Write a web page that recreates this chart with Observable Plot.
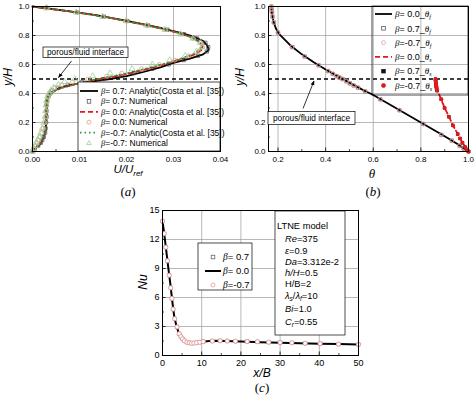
<!DOCTYPE html>
<html><head><meta charset="utf-8">
<script src="https://cdn.jsdelivr.net/npm/d3@7"></script>
<script src="https://cdn.jsdelivr.net/npm/@observablehq/plot@0.6"></script>
<style>
body{margin:0;background:#fff;}
#wrap{position:relative;width:474px;height:395px;overflow:hidden;font-family:'Liberation Sans',Arial,sans-serif;background:#fff;}
</style></head>
<body><div id="wrap"></div>
<script>
// ---------- Panel (a): velocity profiles ----------
const aXTicks = [0, 0.01, 0.02, 0.03, 0.04];
const aXMinor = [0.005, 0.015, 0.025, 0.035];
const yTicks = [0, 0.2, 0.4, 0.6, 0.8, 1.0];
const yMinor = [0.1, 0.3, 0.5, 0.7, 0.9];
const interfaceY = [0.5];
const aY   = [0, 0.02, 0.05, 0.1, 0.15, 0.2, 0.25, 0.3, 0.35, 0.38, 0.4, 0.42, 0.44, 0.46, 0.48, 0.5, 0.52, 0.55, 0.58, 0.61, 0.64, 0.67, 0.7, 0.73, 0.76, 0.79, 0.82, 0.85, 0.88, 0.91, 0.94, 0.97, 1];
const aU07 = [0, 0.0006, 0.0016, 0.0024, 0.0028, 0.0029, 0.003, 0.003, 0.0031, 0.0034, 0.0038, 0.0046, 0.0058, 0.0082, 0.0118, 0.0165, 0.02, 0.0238, 0.0272, 0.0298, 0.0335, 0.0363, 0.0375, 0.0372, 0.0364, 0.0345, 0.0313, 0.0275, 0.0232, 0.0187, 0.0135, 0.0072, 0];
const aU00 = [0, 0.0006, 0.0016, 0.0024, 0.0028, 0.0029, 0.003, 0.003, 0.0031, 0.0034, 0.0039, 0.0048, 0.0062, 0.0085, 0.0112, 0.0145, 0.018, 0.0222, 0.0258, 0.029, 0.032, 0.0345, 0.036, 0.0362, 0.0354, 0.0337, 0.0308, 0.0272, 0.0229, 0.0184, 0.0133, 0.0071, 0];
const aUm07 = [0, 0.0006, 0.0016, 0.0024, 0.0028, 0.0029, 0.003, 0.003, 0.0031, 0.0034, 0.0039, 0.0049, 0.0064, 0.0088, 0.011, 0.0138, 0.0172, 0.0214, 0.0251, 0.0285, 0.0315, 0.0341, 0.0356, 0.036, 0.0352, 0.0336, 0.0307, 0.0271, 0.0228, 0.0183, 0.0132, 0.007, 0];
const nY    = [0, 0.02, 0.04, 0.06, 0.08, 0.1, 0.13, 0.16, 0.2, 0.24, 0.28, 0.32, 0.35, 0.38, 0.4, 0.42, 0.44, 0.46, 0.48, 0.5, 0.52, 0.54, 0.57, 0.6, 0.63, 0.66, 0.69, 0.72, 0.75, 0.78, 0.81, 0.84, 0.87, 0.9, 0.93, 0.96, 0.99];
const nU07  = [0, 0.0005, 0.0012, 0.0018, 0.0021, 0.0024, 0.0027, 0.0028, 0.0029, 0.003, 0.003, 0.003, 0.0031, 0.0034, 0.0038, 0.0042, 0.0054, 0.0075, 0.0106, 0.015, 0.0188, 0.0215, 0.0255, 0.029, 0.0322, 0.0352, 0.0371, 0.0374, 0.0368, 0.035, 0.0322, 0.0287, 0.0246, 0.0202, 0.0152, 0.0095, 0.003];
const nU00  = [0, 0.0003, 0.0007, 0.001, 0.0013, 0.0016, 0.002, 0.0023, 0.0026, 0.0028, 0.0029, 0.003, 0.0031, 0.0033, 0.0036, 0.0041, 0.0048, 0.0062, 0.0085, 0.0118, 0.0158, 0.019, 0.0232, 0.027, 0.0303, 0.0332, 0.0353, 0.0362, 0.0358, 0.0342, 0.0316, 0.0283, 0.0244, 0.02, 0.015, 0.0094, 0.003];
const nUm07 = [0, 0.0002, 0.0005, 0.0008, 0.0011, 0.0014, 0.0018, 0.0021, 0.0024, 0.0027, 0.0028, 0.0029, 0.003, 0.0032, 0.0035, 0.0039, 0.0045, 0.0055, 0.0068, 0.009, 0.0128, 0.0165, 0.0212, 0.0255, 0.0292, 0.0325, 0.0349, 0.036, 0.0357, 0.0341, 0.0315, 0.0282, 0.0243, 0.0199, 0.0149, 0.0093, 0.003];

// ---------- Panel (b): temperature profiles ----------
const bXTicks = [0.2, 0.4, 0.6, 0.8, 1.0];
const bXMinor = [0.3, 0.5, 0.7, 0.9];
const fLineTheta = [0.172, 0.174, 0.178, 0.184, 0.192, 0.205, 0.25, 0.3, 0.35, 0.4, 0.45, 0.5, 0.55, 0.6, 0.7, 0.8, 0.9, 0.95, 1.0];
const fLineY     = [1.0, 0.96, 0.92, 0.88, 0.845, 0.81, 0.735, 0.67, 0.615, 0.565, 0.52, 0.475, 0.43, 0.39, 0.295, 0.2, 0.105, 0.055, 0];
const nfY    = [1.0, 0.98, 0.96, 0.93, 0.89, 0.82, 0.72, 0.655, 0.595, 0.555, 0.535, 0.52, 0.51, 0.5, 0.485, 0.47, 0.455, 0.44, 0.415, 0.36, 0.285, 0.19, 0.115, 0.075, 0.04, 0.02, 0];
const nfT07  = [0.172, 0.173, 0.175, 0.177, 0.183, 0.2, 0.26, 0.312, 0.37, 0.41, 0.43, 0.446, 0.458, 0.471, 0.487, 0.502, 0.518, 0.536, 0.566, 0.63, 0.71, 0.81, 0.886, 0.93, 0.963, 0.98, 1.0];
const nfTm07 = [0.172, 0.173, 0.174, 0.177, 0.182, 0.2, 0.258, 0.31, 0.37, 0.41, 0.43, 0.445, 0.457, 0.47, 0.487, 0.5, 0.517, 0.535, 0.565, 0.63, 0.71, 0.81, 0.885, 0.93, 0.962, 0.98, 1.0];
const sLineTheta = [0.862, 0.865, 0.868, 0.875, 0.885, 0.9, 0.918, 0.935, 0.955, 0.965, 0.975, 0.987, 1.0];
const sLineY     = [0.5, 0.45, 0.42, 0.4, 0.36, 0.3, 0.24, 0.18, 0.12, 0.09, 0.06, 0.03, 0];
const nsY    = [0.5, 0.49, 0.48, 0.47, 0.46, 0.45, 0.44, 0.43, 0.42, 0.36, 0.3, 0.24, 0.18, 0.12, 0.09, 0.06, 0.03, 0.01, 0];
const nsT07  = [0.861, 0.861, 0.862, 0.862, 0.863, 0.864, 0.865, 0.866, 0.867, 0.885, 0.899, 0.917, 0.934, 0.954, 0.964, 0.974, 0.986, 0.995, 1.0];
const nsTm07 = [0.862, 0.862, 0.863, 0.863, 0.864, 0.865, 0.866, 0.867, 0.868, 0.886, 0.9, 0.918, 0.935, 0.955, 0.965, 0.975, 0.987, 0.995, 1.0];

// ---------- Panel (c): Nusselt number ----------
const cXTicks = [0, 10, 20, 30, 40, 50];
const cXMinor = [5, 15, 25, 35, 45];
const cYTicks = [0, 3, 6, 9, 12, 15];
const cYMinor = [1.5, 4.5, 7.5, 10.5, 13.5];
const cLineX  = [0, 0.5, 1, 1.5, 2, 2.5, 3, 3.5, 4, 4.5, 5, 6, 7, 8, 9, 10, 12, 14, 16, 20, 25, 30, 35, 40, 45, 50];
const cLineNu = [13.9, 12.4, 10.7, 9.0, 7.4, 5.6, 4.0, 3.15, 2.5, 2.05, 1.75, 1.42, 1.3, 1.3, 1.35, 1.42, 1.5, 1.52, 1.5, 1.45, 1.38, 1.32, 1.27, 1.22, 1.18, 1.14];
const cMarkX  = [0, 0.43, 0.85, 1.28, 1.7, 2.1, 2.4, 2.7, 3.1, 3.7, 4.25, 4.7, 5.1, 5.6, 6.2, 6.8, 7.4, 8.0, 8.7, 9.5, 10.4, 12.7, 14.7, 16.5, 18.6, 21.6, 24.2, 27.1, 30, 33, 36.4, 40.2, 44.9, 50];
const cMarkNu = [13.9, 12.6, 11.2, 9.8, 8.3, 7.0, 5.9, 4.8, 3.8, 2.95, 2.25, 1.95, 1.72, 1.52, 1.38, 1.31, 1.28, 1.29, 1.33, 1.38, 1.44, 1.5, 1.52, 1.5, 1.48, 1.45, 1.42, 1.38, 1.34, 1.31, 1.27, 1.23, 1.18, 1.14];

// ---------- drawing ----------
const wrap = document.getElementById("wrap");
const W = 474, H = 395;
const FONT = "'Liberation Sans', Arial, sans-serif";
function mount(el){ el.style.position = "absolute"; el.style.left = "0px"; el.style.top = "0px"; wrap.appendChild(el); }
const style = (fs) => ({fontFamily: FONT, fontSize: fs, background: "transparent", overflow: "visible", color: "#000"});
const GRID = {stroke: "#9a9a9a", strokeOpacity: 1, strokeWidth: 0.7};
const f1 = d3.format(".1f"), f2 = d3.format(".2f");
// inward axis ticks (major and minor) at bottom and left of a frame of size fw x fh
function inTicks(xMaj, xMin, yMaj, yMin, fw, fh) {
  return [
    Plot.ruleX(xMaj, {insetTop: fh - 3.5, stroke: "#000", strokeWidth: 0.8}),
    Plot.ruleX(xMin, {insetTop: fh - 2, stroke: "#000", strokeWidth: 0.7}),
    Plot.ruleY(yMaj, {insetRight: fw - 3.5, stroke: "#000", strokeWidth: 0.8}),
    Plot.ruleY(yMin, {insetRight: fw - 2, stroke: "#000", strokeWidth: 0.7})
  ];
}

const tA = aY.map((y, i) => ({y, u07: aU07[i], u00: aU00[i], um07: aUm07[i]}));
const nA = nY.map((y, i) => ({y, u07: nU07[i], u00: nU00[i], um07: nUm07[i]}));

mount(Plot.plot({
  width: W, height: H, marginLeft: 32, marginRight: W - 220, marginTop: 6, marginBottom: H - 151,
  style: style("8px"),
  x: {domain: [0, 0.04]}, y: {domain: [0, 1]},
  marks: [
    Plot.gridX(aXTicks.slice(1, -1), GRID),
    Plot.gridY(yTicks.slice(1, -1), GRID),
    ...inTicks(aXTicks, aXMinor, yTicks, yMinor, 188, 145),
    Plot.ruleY(interfaceY, {stroke: "#000", strokeWidth: 1.3, strokeDasharray: "4,3"}),
    Plot.line(tA, {x: "u07", y: "y", stroke: "#000", strokeWidth: 1.8}),
    Plot.line(tA, {x: "u00", y: "y", stroke: "#e8141c", strokeWidth: 1.8, strokeDasharray: "5,3"}),
    Plot.line(tA, {x: "um07", y: "y", stroke: "#2a9a3a", strokeWidth: 1.6, strokeDasharray: "1.5,3"}),
    Plot.dot(nA, {x: "u07", y: "y", symbol: "square", r: 1.8, stroke: "#444", strokeWidth: 0.7, fill: "none"}),
    Plot.dot(nA, {x: "u00", y: "y", symbol: "circle", r: 2, stroke: "#e0a080", strokeWidth: 0.8, fill: "none"}),
    Plot.dot(nA, {x: "um07", y: "y", symbol: "triangle", r: 2.2, stroke: "#9ccf9c", strokeWidth: 0.8, fill: "none"}),
    Plot.axisX(aXTicks, {tickSize: 0, tickPadding: 4.5, tickFormat: f2, label: null}),
    Plot.axisY(yTicks, {tickSize: 0, tickPadding: 3, tickFormat: f1, label: null}),
    Plot.frame({stroke: "#000", strokeWidth: 1})
  ]
}));

const fLine = fLineTheta.map((t, i) => ({t, y: fLineY[i]}));
const nF = nfY.map((y, i) => ({y, t07: nfT07[i], tm07: nfTm07[i]}));
const sLine = sLineTheta.map((t, i) => ({t, y: sLineY[i]}));
const nS = nsY.map((y, i) => ({y, t07: nsT07[i], tm07: nsTm07[i]}));

mount(Plot.plot({
  width: W, height: H, marginLeft: 268, marginRight: W - 468, marginTop: 6, marginBottom: H - 151,
  style: style("8px"),
  x: {domain: [0.16, 1.0]}, y: {domain: [0, 1]},
  marks: [
    Plot.gridX(bXTicks.slice(0, -1), GRID),
    Plot.gridY(yTicks.slice(1, -1), GRID),
    ...inTicks(bXTicks, bXMinor, yTicks, yMinor, 200, 145),
    Plot.ruleY(interfaceY, {stroke: "#000", strokeWidth: 1.3, strokeDasharray: "4,3"}),
    Plot.line(fLine, {x: "t", y: "y", stroke: "#000", strokeWidth: 1.8}),
    Plot.line(sLine, {x: "t", y: "y", stroke: "#e8141c", strokeWidth: 1.8, strokeDasharray: "5,3"}),
    Plot.dot(nF, {x: "t07", y: "y", symbol: "square", r: 1.8, stroke: "#444", strokeWidth: 0.7, fill: "none"}),
    Plot.dot(nF, {x: "tm07", y: "y", symbol: "circle", r: 2, stroke: "#e8a0a0", strokeWidth: 0.8, fill: "none"}),
    Plot.dot(nS, {x: "t07", y: "y", symbol: "square", r: 1.8, fill: "#111", stroke: "none"}),
    Plot.dot(nS, {x: "tm07", y: "y", symbol: "circle", r: 2, fill: "#e31a1c", stroke: "none"}),
    Plot.axisX(bXTicks, {tickSize: 0, tickPadding: 4.5, tickFormat: f1, label: null}),
    Plot.axisY(yTicks, {tickSize: 0, tickPadding: 3, tickFormat: f1, label: null}),
    Plot.frame({stroke: "#000", strokeWidth: 1})
  ]
}));

const cLine = cLineX.map((x, i) => ({x, nu: cLineNu[i]}));
const cMark = cMarkX.map((x, i) => ({x, nu: cMarkNu[i]}));

mount(Plot.plot({
  width: W, height: H, marginLeft: 162, marginRight: W - 358, marginTop: 210, marginBottom: H - 355,
  style: style("9px"),
  x: {domain: [0, 50]}, y: {domain: [0, 15]},
  marks: [
    Plot.gridX(cXTicks.slice(1, -1), GRID),
    Plot.gridY(cYTicks.slice(1, -1), GRID),
    ...inTicks(cXTicks, cXMinor, cYTicks, cYMinor, 196, 145),
    Plot.line(cLine, {x: "x", y: "nu", stroke: "#000", strokeWidth: 2}),
    Plot.dot(cMark, {x: "x", y: "nu", symbol: "square", r: 1.8, stroke: "#555", strokeWidth: 0.7, fill: "none"}),
    Plot.dot(cMark, {x: "x", y: "nu", symbol: "circle", r: 2.1, stroke: "#e89a9a", strokeWidth: 0.9, fill: "#fff"}),
    Plot.axisX(cXTicks, {tickSize: 0, tickPadding: 4, label: null}),
    Plot.axisY(cYTicks, {tickSize: 0, tickPadding: 3, label: null}),
    Plot.frame({stroke: "#000", strokeWidth: 1})
  ]
}));

// ---------- overlay: legends, annotations, axis titles ----------
const SER = "font-family=\"'Liberation Serif','Times New Roman',serif\" font-style=\"italic\"";
const beta = `<tspan ${SER}>β</tspan>`;
function sample(s, x0, x1, y) {
  const cx = (x0 + x1) / 2;
  if (s.type === "line") return `<line x1="${x0}" x2="${x1}" y1="${y}" y2="${y}" stroke="${s.stroke}" stroke-width="${s.w}" ${s.dash ? `stroke-dasharray="${s.dash}"` : ""}/>`;
  if (s.type === "square") return `<rect x="${cx - 1.8}" y="${y - 1.8}" width="3.6" height="3.6" stroke="${s.stroke}" stroke-width="0.7" fill="${s.fill || "none"}"/>`;
  if (s.type === "circle") return `<circle cx="${cx}" cy="${y}" r="2" stroke="${s.stroke}" stroke-width="0.8" fill="${s.fill || "none"}"/>`;
  if (s.type === "triangle") return `<path d="M${cx},${y - 2.5}L${cx + 2.3},${y + 1.5}L${cx - 2.3},${y + 1.5}Z" stroke="${s.stroke}" stroke-width="0.8" fill="none"/>`;
  return "";
}
function legend(box, entries, opt) {
  let s = `<rect x="${box[0]}" y="${box[1]}" width="${box[2]}" height="${box[3]}" fill="${opt.fill}" stroke="#000" stroke-width="0.7"/>`;
  entries.forEach((e, i) => {
    const y = opt.y0 + i * opt.dy;
    s += sample(e.s, opt.sx0, opt.sx1, y);
    s += `<text x="${opt.tx}" y="${y + opt.fs * 0.36}" font-size="${opt.fs}">${e.t}</text>`;
  });
  return s;
}
const legA = [
  {s: {type: "line", stroke: "#000", w: 1.8}, t: `${beta}= 0.7: Analytic(Costa et al. [35])`},
  {s: {type: "square", stroke: "#444"}, t: `${beta}= 0.7: Numerical`},
  {s: {type: "line", stroke: "#e8141c", w: 1.8, dash: "5,3"}, t: `${beta}= 0.0: Analytic(Costa et al. [35])`},
  {s: {type: "circle", stroke: "#e0a080"}, t: `${beta}= 0.0: Numerical`},
  {s: {type: "line", stroke: "#2a9a3a", w: 1.6, dash: "1.5,3"}, t: `${beta}=-0.7: Analytic(Costa et al. [35])`},
  {s: {type: "triangle", stroke: "#9ccf9c"}, t: `${beta}=-0.7: Numerical`}
];
const th = (sub) => `_<tspan ${SER}>θ</tspan><tspan ${SER} font-size="6" dy="2">${sub}</tspan>`;
const legB = [
  {s: {type: "line", stroke: "#000", w: 1.8}, t: `${beta}= 0.0${th("f")}`},
  {s: {type: "square", stroke: "#444"}, t: `${beta}= 0.7${th("f")}`},
  {s: {type: "circle", stroke: "#e8a0a0"}, t: `${beta}=-0.7${th("f")}`},
  {s: {type: "line", stroke: "#e8141c", w: 1.8, dash: "5,3"}, t: `${beta}= 0.0${th("s")}`},
  {s: {type: "square", stroke: "#111", fill: "#111"}, t: `${beta}= 0.7${th("s")}`},
  {s: {type: "circle", stroke: "#e31a1c", fill: "#e31a1c"}, t: `${beta}=-0.7${th("s")}`}
];
const legC = [
  {s: {type: "square", stroke: "#555"}, t: `${beta}= 0.7`},
  {s: {type: "line", stroke: "#000", w: 2}, t: `${beta}= 0.0`},
  {s: {type: "circle", stroke: "#e89a9a"}, t: `${beta}=-0.7`}
];
const it = (t) => `<tspan font-style="italic">${t}</tspan>`;
const sb = (t) => `<tspan font-style="italic" font-size="6.5" dy="2">${t}</tspan><tspan dy="-2">`;
const info = [
  [277, 228.5, "LTNE model"],
  [285, 241.5, `${it("Re")}=375`],
  [285, 253.5, `${it("ε")}=0.9`],
  [285, 264.5, `${it("Da")}=3.312e-2`],
  [285, 275.5, `${it("h/H")}=0.5`],
  [285, 286.5, `H/B=2`],
  [285, 298.5, `${it("λ")}${sb("s")}/</tspan>${it("λ")}${sb("f")}=10</tspan>`],
  [285, 311.5, `${it("Bi")}=1.0`],
  [285, 324.5, `${it("C")}${sb("r")}=0.55</tspan>`]
];

const ov = document.createElementNS("http://www.w3.org/2000/svg", "svg");
ov.setAttribute("width", W); ov.setAttribute("height", H);
ov.setAttribute("font-family", FONT);
let html = `<defs><marker id="ah" viewBox="0 0 10 10" refX="9" refY="5" markerWidth="6" markerHeight="6" orient="auto-start-reverse"><path d="M0,1L10,5L0,9Z" fill="#000"/></marker></defs>`;
// panel (a)
html += `<rect x="43" y="47" width="85" height="10.5" fill="#fff" stroke="#000" stroke-width="0.7"/>`;
html += `<text x="85.5" y="55.2" font-size="8.3" text-anchor="middle">porous/fluid interface</text>`;
html += `<line x1="71.5" y1="61" x2="58.5" y2="77.5" stroke="#000" stroke-width="0.8" marker-end="url(#ah)"/>`;
html += legend([78, 82, 142, 69], legA, {fill: "#fff", y0: 91, dy: 10.4, sx0: 80, sx1: 98, tx: 101, fs: 8.5});
html += `<text transform="translate(12,77) rotate(-90)" text-anchor="middle" font-size="12" font-style="italic">y/H</text>`;
html += `<text x="128" y="173" text-anchor="middle" font-size="11.5" font-style="italic">U/U<tspan font-size="8" dy="3">ref</tspan></text>`;
html += `<text x="128" y="196" text-anchor="middle" font-size="13" font-family="'Liberation Serif',serif">(<tspan font-style="italic">a</tspan>)</text>`;
// panel (b)
html += legend([372, 6, 96, 89], legB, {fill: "none", y0: 14, dy: 14.3, sx0: 375, sx1: 392, tx: 395, fs: 9});
html += `<rect x="268" y="111.5" width="87" height="13" fill="#fff" stroke="#000" stroke-width="0.7"/>`;
html += `<text x="311.5" y="121" font-size="8.3" text-anchor="middle">porous/fluid interface</text>`;
html += `<line x1="303" y1="108.5" x2="314" y2="81" stroke="#000" stroke-width="0.8" marker-end="url(#ah)"/>`;
html += `<text transform="translate(244,77) rotate(-90)" text-anchor="middle" font-size="12" font-style="italic">y/H</text>`;
html += `<text x="372" y="178" text-anchor="middle" font-size="13" ${SER}>θ</text>`;
html += `<text x="373" y="196" text-anchor="middle" font-size="13" font-family="'Liberation Serif',serif">(<tspan font-style="italic">b</tspan>)</text>`;
// panel (c)
html += legend([198, 243, 54, 47], legC, {fill: "#fff", y0: 257, dy: 14, sx0: 205, sx1: 221, tx: 223, fs: 9.5});
html += `<rect x="275" y="211" width="70" height="124" fill="#fff" stroke="#000" stroke-width="0.7"/>`;
info.forEach(([x, y, t]) => { html += `<text x="${x}" y="${y}" font-size="9.3">${t}</text>`; });
html += `<text transform="translate(147,282) rotate(-90)" text-anchor="middle" font-size="12" font-style="italic">Nu</text>`;
html += `<text x="262" y="377" text-anchor="middle" font-size="12" font-style="italic">x/B</text>`;
html += `<text x="262" y="392" text-anchor="middle" font-size="13" font-family="'Liberation Serif',serif">(<tspan font-style="italic">c</tspan>)</text>`;
ov.innerHTML = html;
mount(ov);
</script></body></html>
